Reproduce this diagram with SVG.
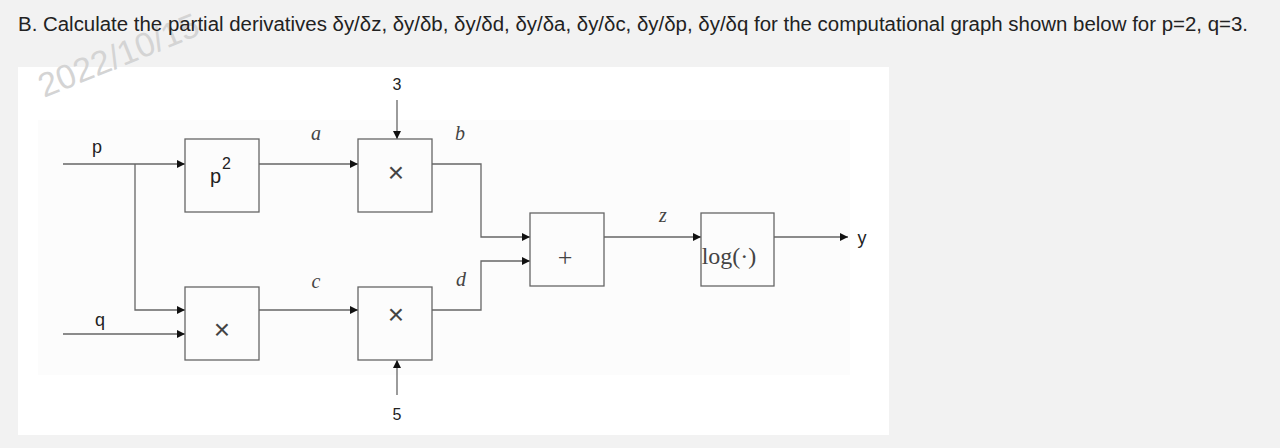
<svg xmlns="http://www.w3.org/2000/svg" width="1280" height="448" viewBox="0 0 1280 448">
<style>
.box{fill:none;stroke:#666;stroke-width:1.3}
.ln{fill:none;stroke:#666;stroke-width:1.3}
.s{font-family:"Liberation Sans",Arial,sans-serif;fill:#222}
.it{font-family:"Liberation Serif","Times New Roman",serif;font-style:italic;font-size:20px;fill:#444;text-anchor:middle}
.op{font-family:"Liberation Sans",Arial,sans-serif;font-size:28px;fill:#444;text-anchor:middle}
</style>
<defs><marker id="ar" viewBox="0 0 10 10" refX="10" refY="5" markerWidth="10" markerHeight="8" markerUnits="userSpaceOnUse" orient="auto"><path d="M0,0L10,5L0,10z" fill="#111"/></marker></defs>
<rect width="1280" height="448" fill="#f2f2f2"/>
<rect x="18" y="67" width="871" height="368" fill="#fff"/>
<rect x="38" y="120" width="812" height="255" fill="#fcfcfc"/>
<text x="44" y="98" class="s" font-size="34" style="fill:#d4d4d4" transform="rotate(-22 44 98)">2022/10/15</text>
<text x="18" y="31" class="s" font-size="19.5" textLength="1230" lengthAdjust="spacingAndGlyphs">B. Calculate the partial derivatives δy/δz, δy/δb,  δy/δd, δy/δa, δy/δc, δy/δp, δy/δq for the computational graph shown below for p=2, q=3.</text>
<g id="connectors">
<path class="ln" d="M63,164H185" marker-end="url(#ar)"/>
<path class="ln" d="M135,164V310H185" marker-end="url(#ar)"/>
<path class="ln" d="M63,334H185" marker-end="url(#ar)"/>
<path class="ln" d="M259,164H358" marker-end="url(#ar)"/>
<path class="ln" d="M259,310H358" marker-end="url(#ar)"/>
<path class="ln" d="M397,100V139" marker-end="url(#ar)"/>
<path class="ln" d="M397,395V360" marker-end="url(#ar)"/>
<path class="ln" d="M432,164H481V237H530" marker-end="url(#ar)"/>
<path class="ln" d="M432,310H481V261H530" marker-end="url(#ar)"/>
<path class="ln" d="M604,237H701" marker-end="url(#ar)"/>
<path class="ln" d="M774,237H848" marker-end="url(#ar)"/>
<text x="316" y="140" class="it">a</text>
<text x="460" y="140" class="it">b</text>
<text x="316" y="288" class="it">c</text>
<text x="461" y="286" class="it">d</text>
<text x="663" y="222" class="it">z</text>
</g>
<text x="97" y="153" class="s" font-size="18" text-anchor="middle">p</text>
<text x="100" y="326" class="s" font-size="18" text-anchor="middle">q</text>
<text x="397" y="90" class="s" font-size="16" text-anchor="middle" fill="#333">3</text>
<text x="397" y="420" class="s" font-size="16" text-anchor="middle" fill="#333">5</text>
<text x="862" y="244" class="s" font-size="18" text-anchor="middle">y</text>
<g id="sq"><rect class="box" x="185" y="139" width="74" height="73"/><text x="210" y="183" class="s" font-size="20">p</text><text x="222" y="169" class="s" font-size="16">2</text></g>
<g id="mul1"><rect class="box" x="185" y="287" width="74" height="73"/><text x="222" y="339" class="op">×</text></g>
<g id="mul2"><rect class="box" x="358" y="139" width="74" height="73"/><text x="396" y="182" class="op">×</text></g>
<g id="mul3"><rect class="box" x="358" y="287" width="74" height="73"/><text x="396" y="324" class="op">×</text></g>
<g id="add"><rect class="box" x="530" y="213" width="74" height="73"/><text x="565" y="266" class="op" style="font-family:'Liberation Serif',serif;font-size:26px">+</text></g>
<g id="log"><rect class="box" x="701" y="213" width="73" height="73"/><text x="729" y="264" class="op" style="font-family:'Liberation Serif',serif;font-size:24px">log(·)</text></g>
</svg>
